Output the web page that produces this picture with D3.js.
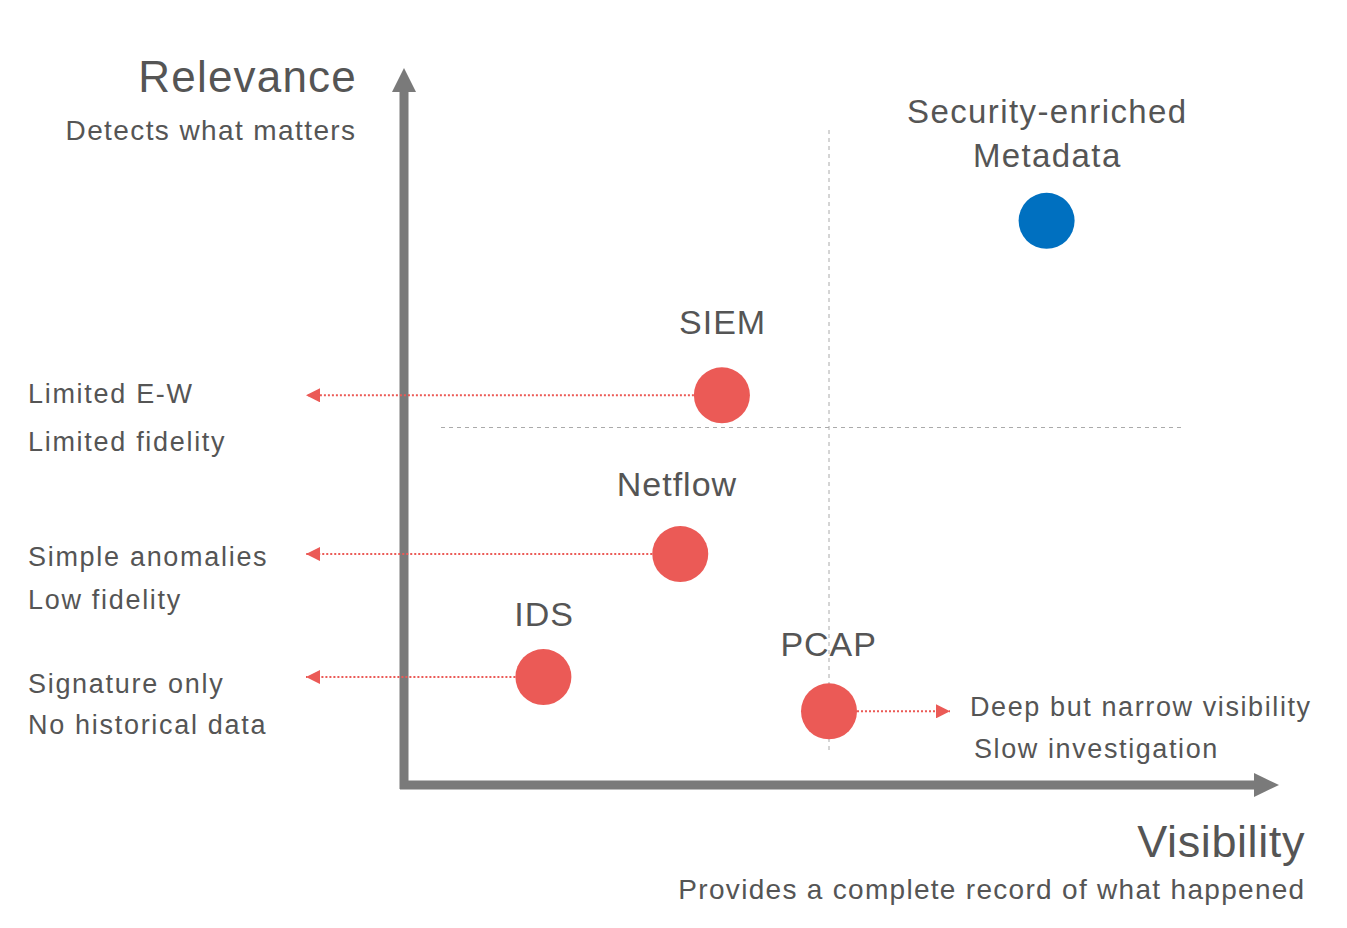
<!DOCTYPE html>
<html><head><meta charset="utf-8">
<script src="https://cdn.jsdelivr.net/npm/d3@7"></script>
<style>body{margin:0;background:#fff}svg{display:block}text{font-family:"Liberation Sans",Arial,sans-serif}</style>
</head><body><svg id="c" width="1347" height="928"></svg>
<script>
const names = ["Security-enriched\nMetadata","SIEM","Netflow","IDS","PCAP"];
const xVals = [7.56,3.74,3.25,1.64,5.0];
const yVals = [7.89,5.45,3.23,1.51,1.03];
const kinds = ["good","bad","bad","bad","bad"];
const notes = [null,["Limited E-W","Limited fidelity"],["Simple anomalies","Low fidelity"],["Signature only","No historical data"],["Deep but narrow visibility","Slow investigation"]];
const noteDir = [null,"left","left","left","right"];
const midX = 5, midY = 5;

const svg = d3.select("#c");
const x = d3.scaleLinear().domain([0,10]).range([404,1254]);
const y = d3.scaleLinear().domain([0,10]).range([785,70]);
const grey = "#7a7a7a", txt = "#555555", red = "#eb5a56", blue = "#0070c0";

const defs = svg.append("defs");
defs.append("marker").attr("id","ah").attr("viewBox","0 0 10 10").attr("refX",10).attr("refY",5)
  .attr("markerWidth",14).attr("markerHeight",14).attr("markerUnits","userSpaceOnUse").attr("orient","auto")
  .append("path").attr("d","M0,0L10,5L0,10Z").attr("fill",red);

// dashed quadrant lines
svg.append("line").attr("x1",x(midX)).attr("x2",x(midX)).attr("y1",130).attr("y2",752)
  .attr("stroke","#aaa").attr("stroke-width",1).attr("stroke-dasharray","4,4");
svg.append("line").attr("x1",441).attr("x2",1181).attr("y1",y(midY)).attr("y2",y(midY))
  .attr("stroke","#aaa").attr("stroke-width",1).attr("stroke-dasharray","4,4");

// axes
svg.append("line").attr("x1",x(0)).attr("x2",x(0)).attr("y1",y(0)+4).attr("y2",92).attr("stroke",grey).attr("stroke-width",9);
svg.append("path").attr("d",`M${x(0)-12},92L${x(0)},68L${x(0)+12},92Z`).attr("fill",grey);
svg.append("line").attr("x1",x(0)-4).attr("x2",1256).attr("y1",y(0)).attr("y2",y(0)).attr("stroke",grey).attr("stroke-width",9);
svg.append("path").attr("d",`M1254,${y(0)-12}L1279,${y(0)}L1254,${y(0)+12}Z`).attr("fill",grey);

function T(xp,yp,s,fs,anchor,ls){
  return svg.append("text").attr("x",xp).attr("y",yp).attr("text-anchor",anchor||"start")
    .attr("font-size",fs).attr("fill",txt).attr("letter-spacing",ls||0).text(s);
}
// axis titles
T(357,92,"Relevance",44,"end",1.2);
T(356.5,140,"Detects what matters",28,"end",1.4);
T(1305,857,"Visibility",45,"end",0.6);
T(1305.5,899,"Provides a complete record of what happened",28,"end",1.3);

const R = 28;
const labelOff = {"SIEM":-61,"Netflow":-58,"IDS":-51,"PCAP":-55};
const labelDx = {"SIEM":0,"Netflow":-4,"IDS":0,"PCAP":-1};
const data = names.map((n,i)=>({n,x:xVals[i],y:yVals[i],k:kinds[i],note:notes[i],dir:noteDir[i]}));

// arrows
data.filter(d=>d.dir).forEach(d=>{
  const cx=x(d.x), cy=y(d.y);
  const x2 = d.dir==="left" ? 306 : 950;
  const x1 = d.dir==="left" ? cx-R : cx+R;
  svg.append("line").attr("x1",x1).attr("x2",x2).attr("y1",cy).attr("y2",cy)
    .attr("stroke",red).attr("stroke-width",2).attr("stroke-dasharray","2,2").attr("marker-end","url(#ah)");
});

// circles
svg.selectAll("circle.pt").data(data).join("circle").attr("class","pt")
  .attr("cx",d=>x(d.x)).attr("cy",d=>y(d.y)).attr("r",R)
  .attr("fill",d=>d.k==="good"?blue:red);

// labels
data.forEach(d=>{
  const lines=d.n.split("\n");
  const cx=x(d.x), cy=y(d.y);
  const top = lines.length>1 ? cy-98 : cy+labelOff[d.n];
  const dx = lines.length>1 ? 0 : labelDx[d.n];
  lines.forEach((l,j)=>{
    T(cx+0.7+dx,top+j*44,l,lines.length>1?33:34,"middle",lines.length>1?1.4:1.0);
  });
});

// notes
data.filter(d=>d.note).forEach(d=>{
  const cy=y(d.y);
  if(d.dir==="left"){
    const off = d.n==="SIEM"?8:(d.n==="Netflow"?12:16);
    const gap = d.n==="SIEM"?48:(d.n==="Netflow"?43:41);
    T(28,cy+off,d.note[0],27,"start",1.7);
    T(28,cy+off+gap,d.note[1],27,"start",1.7);
  } else {
    T(970,cy+5,d.note[0],27,"start",1.6);
    T(974,cy+47,d.note[1],27,"start",1.6);
  }
});
</script></body></html>
